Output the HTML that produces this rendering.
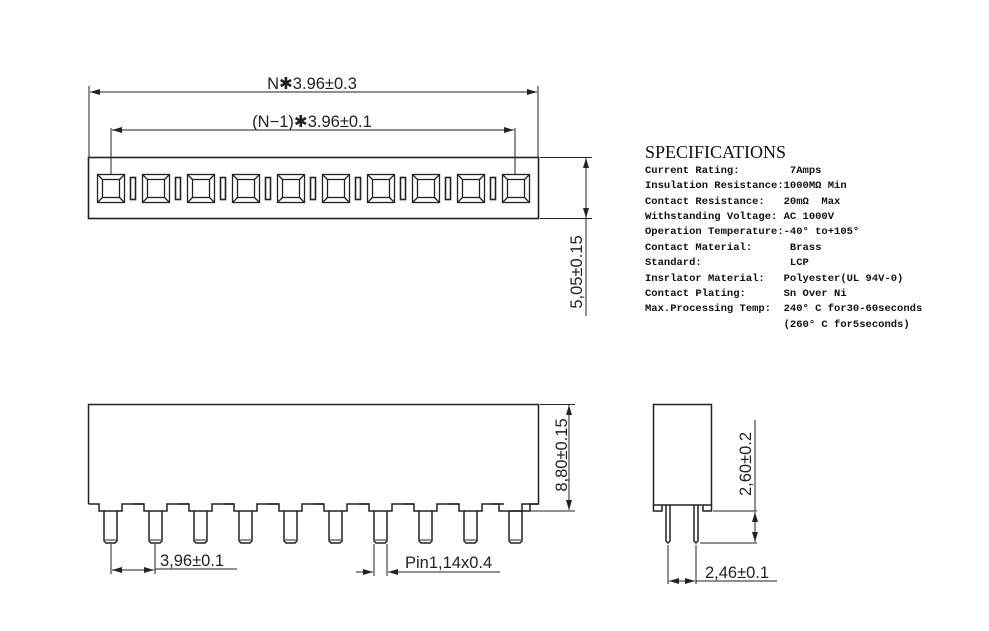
<!DOCTYPE html>
<html><head><meta charset="utf-8"><style>
html,body{margin:0;padding:0;background:#fff;}
svg{display:block;}
.d{font-family:"Liberation Sans",sans-serif;font-size:16.5px;fill:#222;}
.s{font-family:"Liberation Mono",monospace;font-size:10.5px;fill:#111;white-space:pre;font-weight:bold;}
</style></head><body>
<svg width="989" height="631" viewBox="0 0 989 631" xmlns="http://www.w3.org/2000/svg">
<defs>
<marker id="a" viewBox="0 0 10 6" refX="10" refY="3" markerWidth="10" markerHeight="6" orient="auto-start-reverse" markerUnits="userSpaceOnUse"><path d="M0,0 L10,3 L0,6 z" fill="#222"/></marker>
</defs>
<g stroke="#222" fill="none" stroke-width="1">
<rect x="88.5" y="157.5" width="450" height="61" stroke-width="1.6"/>
<line x1="89" y1="86" x2="89" y2="157"/><line x1="538" y1="86" x2="538" y2="157"/>
<line x1="90" y1="92" x2="537" y2="92" marker-start="url(#a)" marker-end="url(#a)"/>
<line x1="111" y1="128" x2="111" y2="175"/><line x1="515" y1="128" x2="515" y2="175"/>
<line x1="112" y1="130" x2="514" y2="130" marker-start="url(#a)" marker-end="url(#a)"/>
<line x1="540" y1="157.5" x2="592" y2="157.5"/><line x1="540" y1="218.5" x2="592" y2="218.5"/>
<line x1="586" y1="158" x2="586" y2="218" marker-start="url(#a)" marker-end="url(#a)"/>
<line x1="586" y1="218" x2="586" y2="316"/>
</g>
<g stroke="#222" fill="none" stroke-width="1.3">
<g id="cell">
<rect x="97.5" y="174.5" width="27" height="28"/>
<rect x="102.5" y="179.5" width="17" height="18"/>
<path d="M97.5,174.5 L102.5,179.5 M124.5,174.5 L119.5,179.5 M97.5,202.5 L102.5,197.5 M124.5,202.5 L119.5,197.5"/>
</g>
<use href="#cell" x="45"/><use href="#cell" x="90"/><use href="#cell" x="135"/><use href="#cell" x="180"/>
<use href="#cell" x="225"/><use href="#cell" x="270"/><use href="#cell" x="315"/><use href="#cell" x="360"/><use href="#cell" x="405"/>
<g id="slot"><rect x="130.5" y="177.5" width="5" height="22" stroke-width="1.6"/></g>
<use href="#slot" x="45"/><use href="#slot" x="90"/><use href="#slot" x="135"/><use href="#slot" x="180"/>
<use href="#slot" x="225"/><use href="#slot" x="270"/><use href="#slot" x="315"/><use href="#slot" x="360"/>
</g>
<text class="d" x="312" y="89" text-anchor="middle">N✱3.96±0.3</text>
<text class="d" x="312" y="127" text-anchor="middle">(N−1)✱3.96±0.1</text>
<text class="d" transform="translate(582,272) rotate(-90)" text-anchor="middle">5,05±0.15</text>

<g stroke="#222" fill="none" stroke-width="1.5">
<path d="M88.5,504 L88.5,404.5 L538.5,404.5 L538.5,504 L530,504 L530,511 L510,511"/>
<path id="bot" d="M88.5,504 L99,504 L99,511 L122,511 L122,504 L144,504"/>
<use href="#bot" x="45"/><use href="#bot" x="90"/><use href="#bot" x="135"/><use href="#bot" x="180"/>
<use href="#bot" x="225"/><use href="#bot" x="270"/><use href="#bot" x="315"/><use href="#bot" x="360"/>
<path d="M493,504 L499,504 L499,511 L522,511 L522,504 L538.5,504"/>
<g id="pin"><path d="M104,511 L104,541 L106,543 L115,543 L117,541 L117,511"/><line x1="105" y1="540" x2="116" y2="540" stroke-width="1"/></g>
<use href="#pin" x="45"/><use href="#pin" x="90"/><use href="#pin" x="135"/><use href="#pin" x="180"/>
<use href="#pin" x="225"/><use href="#pin" x="270"/><use href="#pin" x="315"/><use href="#pin" x="360"/><use href="#pin" x="405"/>
</g>
<g stroke="#222" fill="none" stroke-width="1">
<line x1="540" y1="404.5" x2="575" y2="404.5"/><line x1="528" y1="511" x2="575" y2="511"/>
<line x1="569" y1="405" x2="569" y2="510" marker-start="url(#a)" marker-end="url(#a)"/>
<line x1="111" y1="544" x2="111" y2="574"/><line x1="155" y1="544" x2="155" y2="574"/>
<line x1="112" y1="570" x2="154" y2="570" marker-start="url(#a)" marker-end="url(#a)"/>
<line x1="155" y1="569" x2="237" y2="569"/>
<line x1="374" y1="544" x2="374" y2="576"/><line x1="387" y1="544" x2="387" y2="576"/>
<line x1="356" y1="572" x2="373" y2="572" marker-end="url(#a)"/>
<line x1="500" y1="572" x2="388" y2="572" marker-end="url(#a)"/>
</g>
<text class="d" transform="translate(567,455) rotate(-90)" text-anchor="middle">8,80±0.15</text>
<text class="d" x="160" y="566">3,96±0.1</text>
<text class="d" x="405" y="568">Pin1,14x0.4</text>

<g stroke="#222" fill="none" stroke-width="1.5">
<rect x="653.5" y="404.5" width="58" height="100.5"/>
<path d="M653.5,505 L653.5,511 L662,511 L662,505 M703,505 L703,511 L711.5,511 L711.5,505"/>
<path d="M666,505 L666,541 L668,543 L670,541 L670,505"/>
<path d="M694,505 L694,541 L696,543 L698,541 L698,505"/>
</g>
<g stroke="#222" fill="none" stroke-width="1">
<line x1="713" y1="511" x2="757" y2="511"/><line x1="700" y1="543" x2="757" y2="543"/>
<line x1="755" y1="420" x2="755" y2="511"/>
<line x1="755" y1="512" x2="755" y2="542" marker-start="url(#a)" marker-end="url(#a)"/>
<line x1="668" y1="545" x2="668" y2="584"/><line x1="696" y1="545" x2="696" y2="584"/>
<line x1="669" y1="581" x2="695" y2="581" marker-start="url(#a)" marker-end="url(#a)"/>
<line x1="696" y1="581" x2="777" y2="581"/>
</g>
<text class="d" transform="translate(751,464) rotate(-90)" text-anchor="middle">2,60±0.2</text>
<text class="d" x="705" y="578">2,46±0.1</text>

<text x="645" y="158" style="font-family:'Liberation Serif',serif;font-size:18px;fill:#111">SPECIFICATIONS</text>
<text class="s" x="645" y="173">Current Rating:        7Amps</text>
<text class="s" x="645" y="188">Insulation Resistance:1000MΩ Min</text>
<text class="s" x="645" y="204">Contact Resistance:   20mΩ  Max</text>
<text class="s" x="645" y="219">Withstanding Voltage: AC 1000V</text>
<text class="s" x="645" y="234">Operation Temperature:-40° to+105°</text>
<text class="s" x="645" y="250">Contact Material:      Brass</text>
<text class="s" x="645" y="265">Standard:              LCP</text>
<text class="s" x="645" y="281">Insrlator Material:   Polyester(UL 94V-0)</text>
<text class="s" x="645" y="296">Contact Plating:      Sn Over Ni</text>
<text class="s" x="645" y="311">Max.Processing Temp:  240° C for30-60seconds</text>
<text class="s" x="645" y="327">                      (260° C for5seconds)</text>
</svg>
</body></html>
